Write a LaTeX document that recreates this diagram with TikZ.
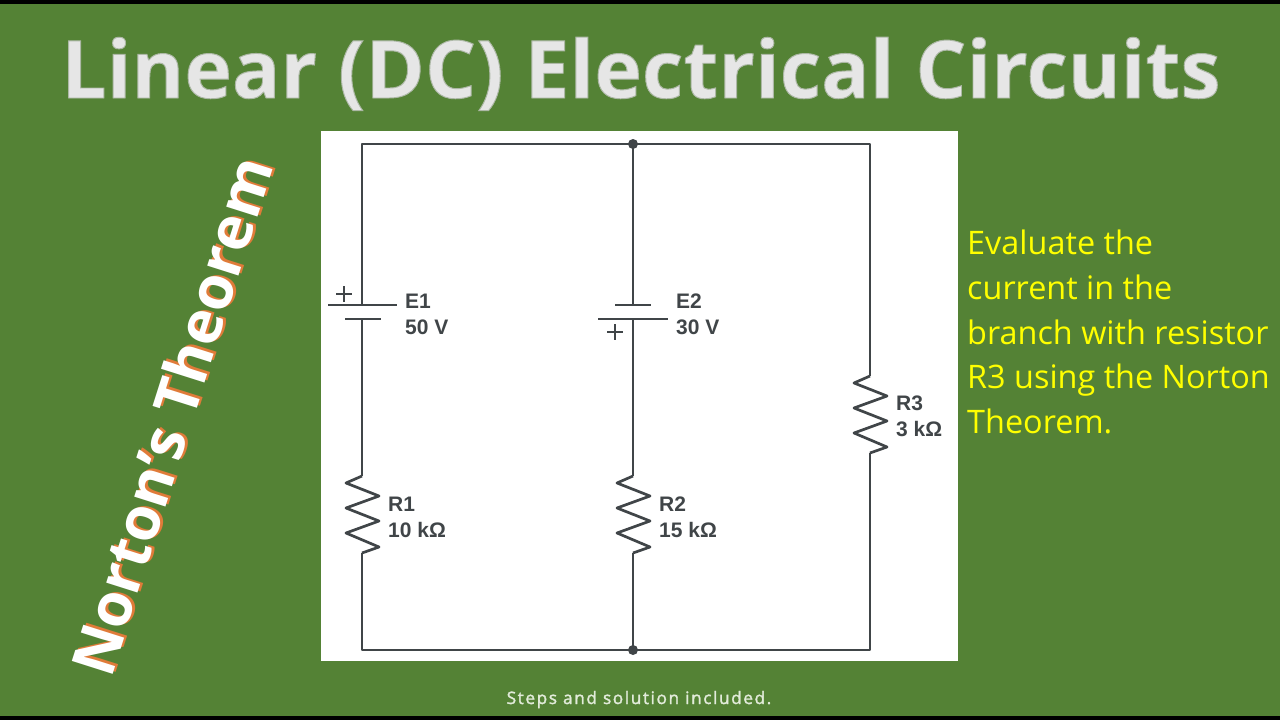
\documentclass[tikz,border=0pt]{standalone}
\usepackage{fontspec}
\setmainfont{Open Sans}
\newfontfamily\lab{Liberation Sans}
\newfontfamily\titlefont[FakeBold=1.2,LetterSpace=0.4]{Open Sans}
\newfontfamily\footfont[FakeBold=1.8,LetterSpace=9.3]{Open Sans}
\definecolor{bggreen}{HTML}{548235}
\definecolor{wire}{HTML}{404548}
\definecolor{titlecol}{HTML}{E6E6E6}
\definecolor{orangeshade}{HTML}{E07B39}
\definecolor{yel}{HTML}{FFFF00}
\definecolor{footcol}{HTML}{E2EBDA}
\tikzset{
  x=1pt,y=-1pt,
  wireline/.style={draw=wire,line width=2.7pt,line join=round},
  plate/.style={draw=wire,line width=2.4pt},
  plusline/.style={draw=wire,line width=1.1pt},
  junction/.style={circle,fill=wire,inner sep=0pt,minimum size=10pt},
  comp/.style={inner sep=0pt,anchor=base west,text=wire,align=left,
     font=\lab\bfseries\fontsize{21}{26}\selectfont},
  zig/.pic={\draw[wireline] (0,0) -- (-16,7) -- (17,20) -- (-16,32) -- (17,45) -- (-16,57) -- (17,71) -- (0,77);}
}
\begin{document}
\begin{tikzpicture}
\useasboundingbox (0,0) rectangle (1280,720);
\fill[black] (0,0) rectangle (1280,720);
\fill[bggreen] (0,4) rectangle (1280,716);
\fill[white] (321,131) rectangle (958,661);
% title
\node (title) [inner sep=0pt,anchor=base,text=titlecol,font=\titlefont\bfseries\fontsize{80}{90}\selectfont] at (641,98) {\special{pdf:code 0.68 0.72 0.65 RG}Linear (DC) Electrical Circuits};
% junctions
\node (jt) [junction] at (633,144) {};
\node (jb) [junction] at (633,650) {};
% corners & terminals
\coordinate (tl) at (362,144); \coordinate (tr) at (870,144);
\coordinate (bl) at (362,650); \coordinate (br) at (870,650);
\coordinate (e1a) at (362,305); \coordinate (e1b) at (362,319);
\coordinate (e2a) at (633,305); \coordinate (e2b) at (633,319);
\coordinate (r1a) at (362,476); \coordinate (r1b) at (362,553);
\coordinate (r2a) at (633,476); \coordinate (r2b) at (633,553);
\coordinate (r3a) at (870,376); \coordinate (r3b) at (870,453);
% wires
\draw[wireline] (e1a) -- (tl) -- (jt.center) -- (tr) -- (r3a);
\draw[wireline] (r3b) -- (br) -- (jb.center) -- (bl) -- (r1b);
\draw[wireline] (e1b) -- (r1a);
\draw[wireline] (jt.center) -- (e2a);
\draw[wireline] (e2b) -- (r2a);
\draw[wireline] (r2b) -- (jb.center);
% resistors
\pic at (r1a) {zig};
\pic at (r2a) {zig};
\pic at (r3a) {zig};
% batteries
\draw[plate] (328,305) -- (397,305);
\draw[plate] (345,319) -- (381,319);
\draw[plate] (615,305) -- (651,305);
\draw[plate] (598,319) -- (668,319);
\draw[plusline] (336,294) -- (352,294) (344,286) -- (344,302);
\draw[plusline] (607,332) -- (623,332) (615,324) -- (615,340);
% labels
\node (e1l) [comp] at (405,334.5) {E1\\50 V};
\node (e2l) [comp] at (676,334.5) {E2\\30 V};
\node (r1l) [comp] at (388,537.5) {R1\\10 kΩ};
\node (r2l) [comp] at (659,537.5) {R2\\15 kΩ};
\node (r3l) [comp] at (896,436.5) {R3\\3 kΩ};
% side text
\node (side) [inner sep=0pt,anchor=north west,align=left,text=yel,font=\fontsize{32.4}{44.6}\selectfont] at (967,230) {Evaluate the\\current in the\\branch with resistor\\R3 using the Norton\\Theorem.};
% rotated title
\node (nortonS) [inner sep=0pt,anchor=base,rotate=72.4,text=orangeshade,font=\bfseries\fontsize{60}{62}\selectfont] at (195.5,421) {Norton’s Theorem};
\node (norton) [inner sep=0pt,anchor=base,rotate=72.4,text=white,font=\bfseries\fontsize{60}{62}\selectfont] at (192.5,422.5) {Norton’s Theorem};
% footer
\node (foot) [inner sep=0pt,anchor=base,text=footcol,font=\footfont\fontsize{17.2}{20}\selectfont] at (639,704) {Steps and solution included.};
\end{tikzpicture}
\end{document}
